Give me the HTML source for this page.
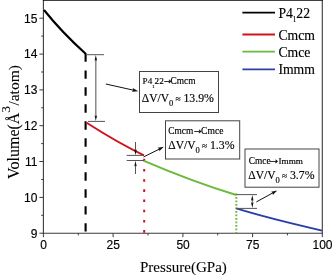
<!DOCTYPE html>
<html><head><meta charset="utf-8">
<style>
html,body{margin:0;padding:0;background:#fff;width:332px;height:275px;overflow:hidden}
svg{display:block;filter:blur(0.3px)}
.tk{font-family:"Liberation Sans",Arial,sans-serif;fill:#000}
.sf{font-family:"Liberation Serif","Times New Roman",serif;fill:#000}
</style></head><body>
<svg width="332" height="275" viewBox="0 0 332 275">
<rect width="332" height="275" fill="#fff"/>
<g stroke="#3a3a3a" stroke-width="1.1" fill="none">
<line x1="43.4" y1="0" x2="43.4" y2="233.7"/>
<line x1="322.3" y1="0" x2="322.3" y2="233.7"/>
<line x1="42.9" y1="233.2" x2="322.8" y2="233.2"/>
<line x1="42.9" y1="0.3" x2="322.8" y2="0.3" stroke="#000"/>
</g>
<g stroke="#3a3a3a" stroke-width="1">
<line x1="43.4" y1="233.2" x2="43.4" y2="237.2"/>
<line x1="113.1" y1="233.2" x2="113.1" y2="237.2"/>
<line x1="182.9" y1="233.2" x2="182.9" y2="237.2"/>
<line x1="252.6" y1="233.2" x2="252.6" y2="237.2"/>
<line x1="322.3" y1="233.2" x2="322.3" y2="237.2"/>
<line x1="78.3" y1="233.2" x2="78.3" y2="235.4"/>
<line x1="148.0" y1="233.2" x2="148.0" y2="235.4"/>
<line x1="217.7" y1="233.2" x2="217.7" y2="235.4"/>
<line x1="287.4" y1="233.2" x2="287.4" y2="235.4"/>
<line x1="39.4" y1="233.2" x2="43.4" y2="233.2"/>
<line x1="39.4" y1="197.4" x2="43.4" y2="197.4"/>
<line x1="39.4" y1="161.5" x2="43.4" y2="161.5"/>
<line x1="39.4" y1="125.7" x2="43.4" y2="125.7"/>
<line x1="39.4" y1="89.9" x2="43.4" y2="89.9"/>
<line x1="39.4" y1="54.1" x2="43.4" y2="54.1"/>
<line x1="39.4" y1="18.2" x2="43.4" y2="18.2"/>
<line x1="41.199999999999996" y1="215.3" x2="43.4" y2="215.3"/>
<line x1="41.199999999999996" y1="179.5" x2="43.4" y2="179.5"/>
<line x1="41.199999999999996" y1="143.6" x2="43.4" y2="143.6"/>
<line x1="41.199999999999996" y1="107.8" x2="43.4" y2="107.8"/>
<line x1="41.199999999999996" y1="72.0" x2="43.4" y2="72.0"/>
<line x1="41.199999999999996" y1="36.1" x2="43.4" y2="36.1"/>
</g>
<g class="tk" font-size="12" text-anchor="end" stroke="#000" stroke-width="0.15">
<text x="37.4" y="237.5">9</text>
<text x="37.4" y="201.7">10</text>
<text x="37.4" y="165.8">11</text>
<text x="37.4" y="130.0">12</text>
<text x="37.4" y="94.2">13</text>
<text x="37.4" y="58.4">14</text>
<text x="37.4" y="22.5">15</text>
</g>
<g class="tk" font-size="12" text-anchor="middle" stroke="#000" stroke-width="0.15">
<text x="43.6" y="249.3">0</text>
<text x="113.3" y="249.3">25</text>
<text x="183.1" y="249.3">50</text>
<text x="252.8" y="249.3">75</text>
<text x="322.5" y="249.3">100</text>
</g>
<g class="sf" stroke="#000" stroke-width="0.08">
<text transform="translate(140.0,271.5) scale(1,1.03)" font-size="15.05">Pressure(GPa)</text>
<text transform="translate(19.4,179) rotate(-90)" font-size="16">Volume(Å</text>
<text transform="translate(10.3,112.8) rotate(-90)" font-size="13.5">3</text>
<text transform="translate(19.4,105.6) rotate(-90)" font-size="15.5">/atom)</text>
</g>
<g fill="none">
<line x1="85.6" y1="53.4" x2="85.6" y2="233.2" stroke="#000" stroke-width="2.1" stroke-dasharray="8.4 8.58"/>
<line x1="144.2" y1="158.8" x2="144.2" y2="233.2" stroke="#d0121a" stroke-width="2" stroke-dasharray="2.6 7.58"/>
<line x1="236.3" y1="193.4" x2="236.3" y2="233.2" stroke="#6cba3a" stroke-width="2" stroke-dasharray="1.8 1.7"/>
</g>
<g fill="none" stroke-linecap="butt">
<path d="M44,10 C58,27.5 71.9,41.4 85.9,54" stroke="#000" stroke-width="2.1"/>
<path d="M86.2,122.5 C105.5,134.85 124.7,146.2 144,155.3" stroke="#d0121a" stroke-width="2"/>
<path d="M144,160.8 C174.8,174 205.5,185.5 236.3,195" stroke="#6cba3a" stroke-width="2"/>
<path d="M236.3,208.4 C264.9,217.3 293.4,224 322,230.6" stroke="#2a40a8" stroke-width="2"/>
</g>
<g stroke="#555" stroke-width="1" fill="none">
<line x1="86" y1="54.7" x2="104" y2="54.7"/>
<line x1="88" y1="121.4" x2="105" y2="121.4"/>
<line x1="126.7" y1="155.4" x2="144" y2="155.4"/>
<line x1="126.7" y1="160.5" x2="144" y2="160.5"/>
<line x1="236.3" y1="194.6" x2="257" y2="194.6"/>
<line x1="236.3" y1="208.4" x2="257" y2="208.4"/>
<line x1="95.8" y1="58" x2="95.8" y2="118" stroke="#777" stroke-width="1.3"/>
<line x1="135.5" y1="142" x2="135.5" y2="151"/>
<line x1="135.5" y1="165" x2="135.5" y2="174"/>
<line x1="252.3" y1="198" x2="252.3" y2="205"/>
</g>
<g fill="#111">
<path d="M95.80,55.00 L97.05,60.80 L95.80,59.90 L94.55,60.80Z"/>
<path d="M95.80,121.10 L94.55,115.30 L95.80,116.20 L97.05,115.30Z"/>
<path d="M135.50,155.20 L134.25,149.40 L135.50,150.30 L136.75,149.40Z"/>
<path d="M135.50,160.70 L136.75,166.50 L135.50,165.60 L134.25,166.50Z"/>
<path d="M252.30,194.90 L253.55,200.70 L252.30,199.80 L251.05,200.70Z"/>
<path d="M252.30,208.10 L251.05,202.30 L252.30,203.20 L253.55,202.30Z"/>
</g>
<g stroke="#111" stroke-width="1" fill="none">
<line x1="105.8" y1="84" x2="134" y2="90.3"/>
<line x1="143.6" y1="156.9" x2="160" y2="148.8"/>
<line x1="256.4" y1="201.9" x2="273" y2="192.8"/>
</g>
<g fill="#111">
<path d="M138.20,91.20 L131.93,91.75 L133.22,90.09 L132.76,88.04Z"/>
<path d="M163.80,146.80 L159.28,151.18 L159.24,149.08 L157.58,147.78Z"/>
<path d="M277.20,190.50 L272.85,195.05 L272.73,192.95 L271.03,191.72Z"/>
</g>
<g fill="#fff" stroke="#444" stroke-width="1">
<rect x="139.5" y="71.5" width="79" height="41"/>
<rect x="165.5" y="120.8" width="74.2" height="38.2"/>
<rect x="245" y="149" width="74" height="38.2"/>
</g>
<g class="sf" stroke="#000" stroke-width="0.15">
<text x="142.6" y="84.3" font-size="9.2">P4<tspan font-size="4.6" dy="3.2">1</tspan><tspan dy="-3.2">22</tspan></text>
<text transform="translate(163.45,84.3) scale(1.09,1)" font-family="DejaVu Sans, sans-serif" font-size="8.5" stroke="#000" stroke-width="0.2">→</text>
<text x="170.5" y="84.3" font-size="9.4">Cmcm</text>
<text x="141.8" y="101.5" font-size="11.5">ΔV/V<tspan font-size="8.5" dy="4">0</tspan></text><text x="175.4" y="101.5" font-size="9.5">≈</text><text x="183.4" y="101.5" font-size="11.8">13.9%</text>
<text x="168.3" y="134.3" font-size="9.4">Cmcm</text>
<text transform="translate(193.55,134.3) scale(1.11,1)" font-family="DejaVu Sans, sans-serif" font-size="8.5" stroke="#000" stroke-width="0.2">→</text>
<text x="201.1" y="134.3" font-size="9.6">Cmce</text>
<text x="168.3" y="148.8" font-size="11.5">ΔV/V<tspan font-size="8.5" dy="4">0</tspan></text><text x="201.9" y="148.8" font-size="9.5">≈</text><text x="209.9" y="148.8" font-size="11.8">1.3%</text>
<text x="248.8" y="164.3" font-size="9.4">Cmce</text>
<text transform="translate(269.55,164.3) scale(1.2,1)" font-family="DejaVu Sans, sans-serif" font-size="8.5" stroke="#000" stroke-width="0.2">→</text>
<text x="278.5" y="164.3" font-size="9.2">Immm</text>
<text x="248.3" y="179.1" font-size="11.5">ΔV/V<tspan font-size="8.5" dy="4">0</tspan></text><text x="281.9" y="179.1" font-size="9.5">≈</text><text x="289.9" y="179.1" font-size="11.8">3.7%</text>
</g>
<g stroke-width="1.8" fill="none">
<line x1="242.4" y1="12.6" x2="275" y2="12.6" stroke="#000"/>
<line x1="242.4" y1="34.5" x2="275" y2="34.5" stroke="#d0121a"/>
<line x1="242.4" y1="51.6" x2="275" y2="51.6" stroke="#6cba3a"/>
<line x1="242.4" y1="69.4" x2="275" y2="69.4" stroke="#2a40a8"/>
</g>
<g class="sf" font-size="13.7" stroke="#000" stroke-width="0.15">
<text transform="translate(278.4,17.5) scale(1,1.07)">P4<tspan font-size="7" dy="4.4">1</tspan><tspan dy="-4.4">22</tspan></text>
<text transform="translate(278.4,39.7) scale(1,1.07)">Cmcm</text>
<text transform="translate(278.4,57) scale(1,1.07)">Cmce</text>
<text transform="translate(278.4,74.3) scale(1,1.07)">Immm</text>
</g>
</svg>
</body></html>
